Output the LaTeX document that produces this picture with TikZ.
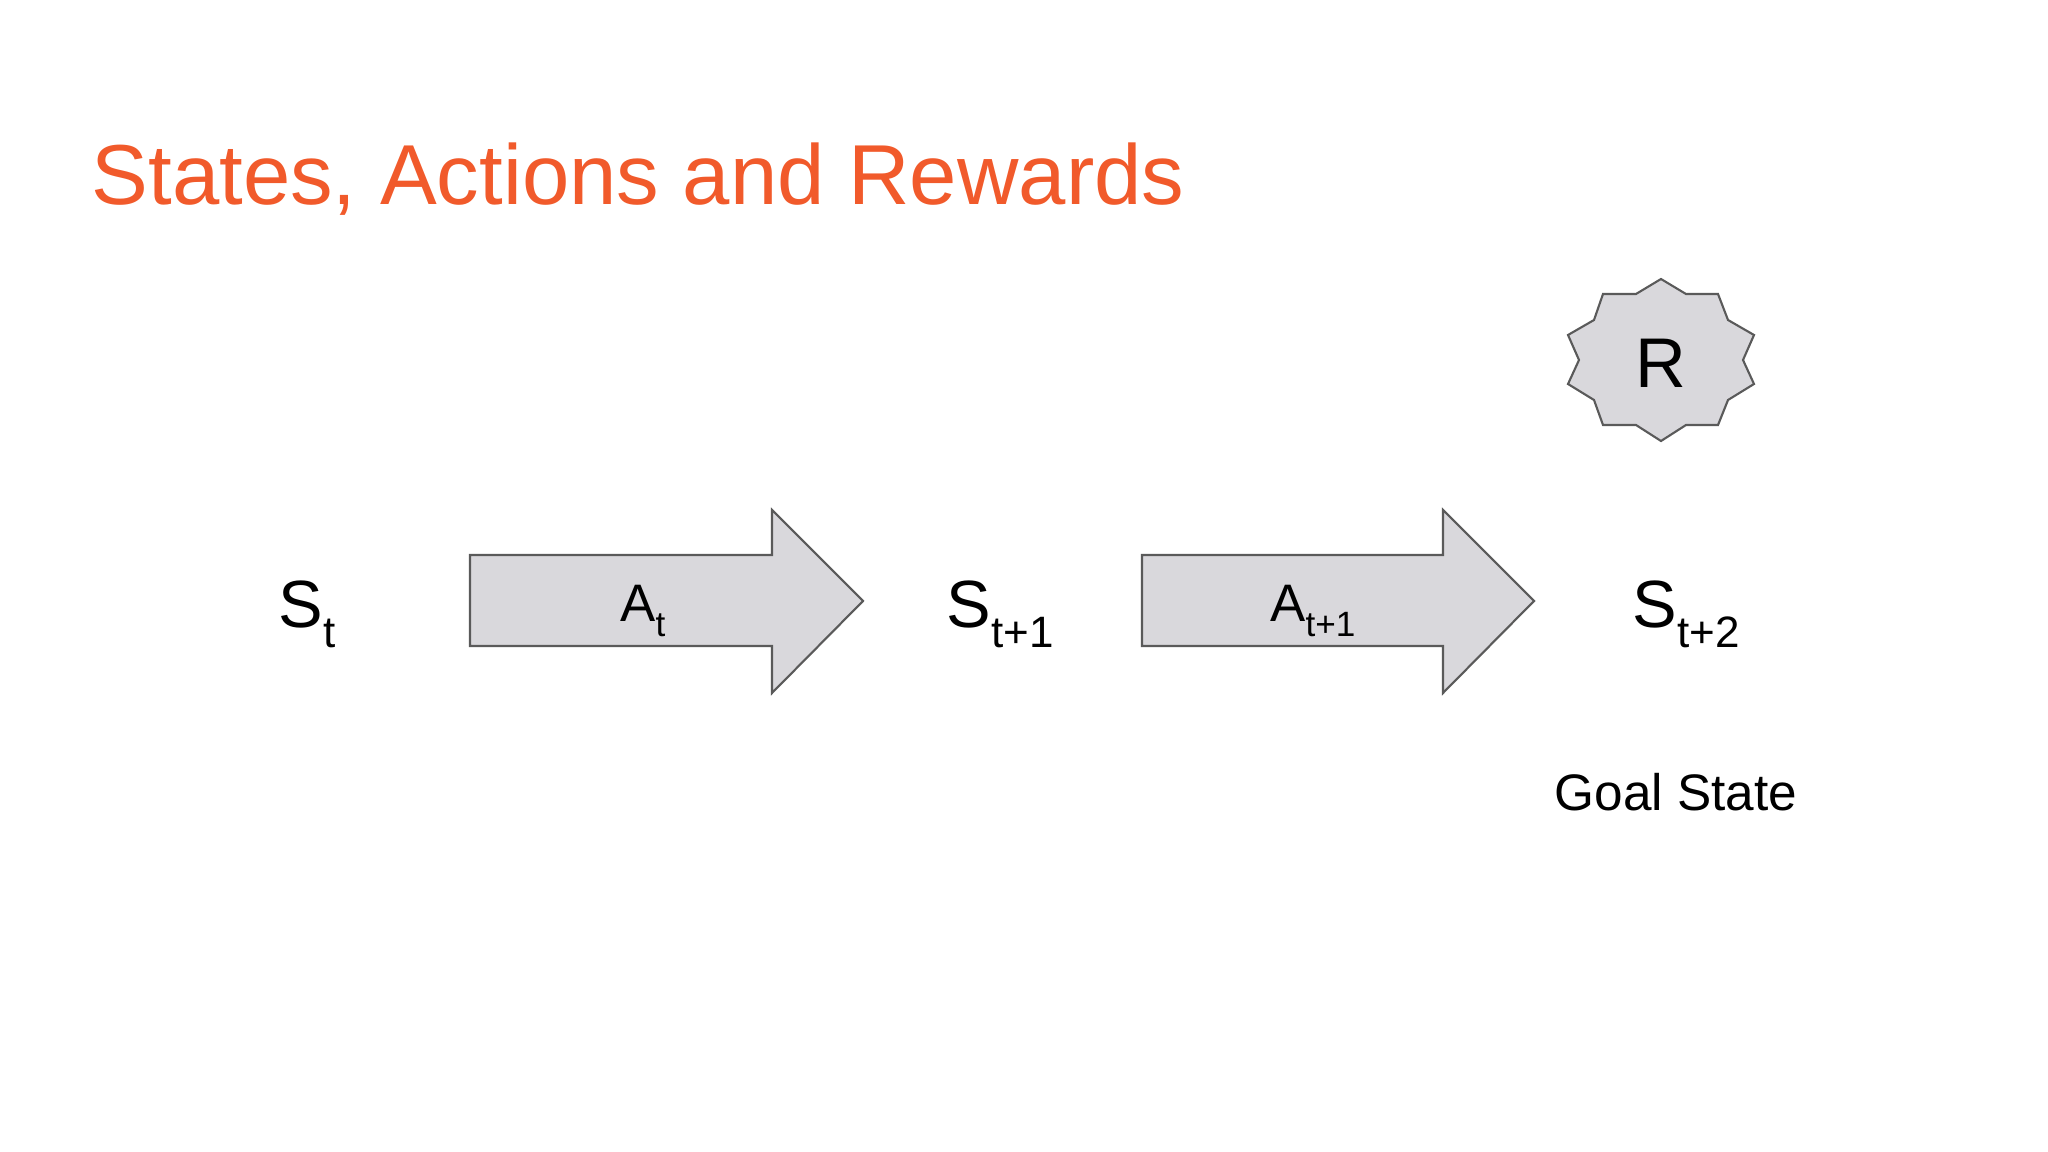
\documentclass[tikz,border=0pt]{standalone}
\usepackage{fontspec}
\setmainfont{Liberation Sans}
\definecolor{ttl}{HTML}{F15A2B}
\definecolor{shp}{HTML}{D9D8DC}
\definecolor{edg}{HTML}{5A5A5A}
\newcommand{\St}[1]{{\fontsize{19}{19}\selectfont S\raisebox{-0.3em}{\fontsize{12.5}{12.5}\selectfont #1}}}
\newcommand{\At}[1]{{\fontsize{15}{15}\selectfont A\raisebox{-0.3em}{\fontsize{10}{10}\selectfont #1}}}
\begin{document}
\begin{tikzpicture}[x=0.01cm,y=-0.01cm,
  shapestyle/.style={fill=shp,draw=edg,line width=0.6pt},
  lbl/.style={anchor=base,inner sep=0pt}]
\useasboundingbox (0,0) rectangle (2048,1152);
\node[anchor=base west,inner sep=0pt,text=ttl,font=\fontsize{24.2}{24.2}\selectfont] (title) at (91,205) {States, Actions and Rewards};
\draw[shapestyle] (470,555) -- (772,555) -- (772,510) -- (863,601) -- (772,693) -- (772,646) -- (470,646) -- cycle;
\draw[shapestyle] (1142,555) -- (1443,555) -- (1443,510) -- (1534,601) -- (1443,693) -- (1443,646) -- (1142,646) -- cycle;
\draw[shapestyle] (1661,279) -- (1686,294) -- (1718,294) -- (1728,320) -- (1754,335) -- (1743,360) -- (1754,384) -- (1728,400) -- (1718,425) -- (1686,425) -- (1661,441) -- (1636,425) -- (1603,425) -- (1594,400) -- (1568,384) -- (1579,360) -- (1568,335) -- (1594,320) -- (1603,294) -- (1636,294) -- cycle;
\node[lbl,font=\fontsize{20}{20}\selectfont] (r) at (1661,388) {R};
\node[lbl] (s0) at (307,627) {\St{t}};
\node[lbl] (s1) at (1000,627) {\St{t+1}};
\node[lbl] (s2) at (1686,627) {\St{t+2}};
\node[lbl] (a0) at (643,621) {\At{t}};
\node[lbl] (a1) at (1313,621) {\At{t+1}};
\node[lbl,font=\fontsize{14.6}{14.6}\selectfont] (goal) at (1676,810) {Goal State};
\end{tikzpicture}
\end{document}
